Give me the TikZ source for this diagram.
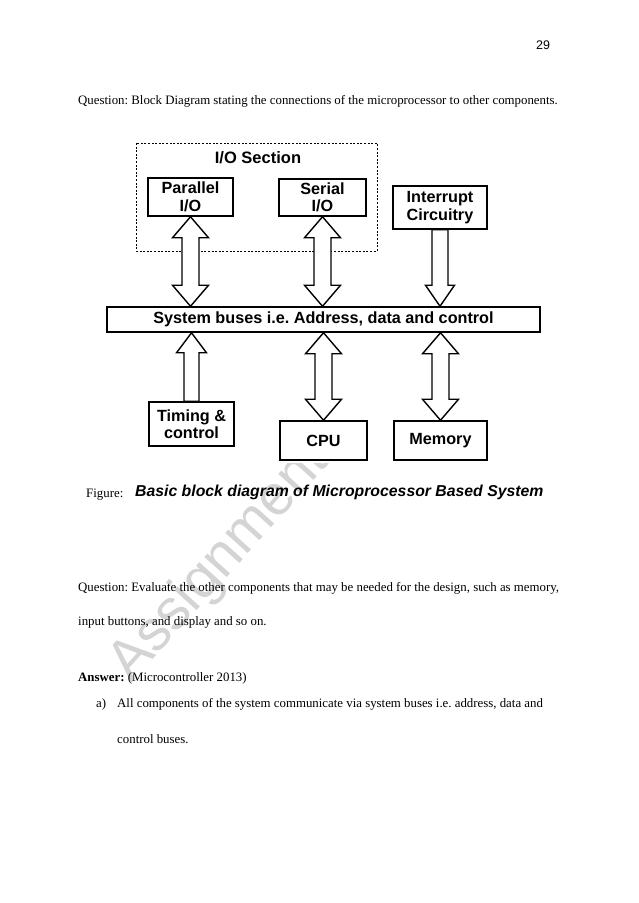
\documentclass[tikz,border=0pt]{standalone}
\usepackage{fontspec}
\setmainfont{Liberation Serif}
\setsansfont{Liberation Sans}
\usetikzlibrary{calc,positioning}
\frenchspacing

% double headed hollow arrow, #1 top point, #2 bottom point
\newcommand{\busdbl}[2]{%
  \draw[busarrow] (#1) -- ($(#1)+(18,21)$) -- ($(#1)+(8.5,21)$) -- ($(#2)+(8.5,-21)$)
    -- ($(#2)+(18,-21)$) -- (#2) -- ($(#2)+(-18,-21)$) -- ($(#2)+(-8.5,-21)$)
    -- ($(#1)+(-8.5,21)$) -- ($(#1)+(-18,21)$) -- cycle;}
% single hollow arrow pointing down to #2
\newcommand{\busdown}[2]{%
  \draw[busarrow] ($(#1)+(-8,0)$) -- ($(#1)+(8,0)$) -- ($(#2)+(8,-21)$) -- ($(#2)+(14.5,-21)$)
    -- (#2) -- ($(#2)+(-14.5,-21)$) -- ($(#2)+(-8,-21)$) -- cycle;}
% single hollow arrow pointing up to #1
\newcommand{\busup}[2]{%
  \draw[busarrow] (#1) -- ($(#1)+(15,20)$) -- ($(#1)+(7.5,20)$) -- ($(#2)+(7.5,0)$)
    -- ($(#2)+(-7.5,0)$) -- ($(#1)+(-7.5,20)$) -- ($(#1)+(-15,20)$) -- cycle;}

\tikzset{
  blockbox/.style={draw, line width=1.5pt, minimum width=86pt, minimum height=38pt,
    align=center, inner sep=1pt, font=\sffamily\bfseries\fontsize{16.2}{17.5}\selectfont},
  busarrow/.style={draw, line width=1.4pt, fill=white, line join=miter},
  bodytext/.style={anchor=base west, inner sep=0pt, font=\fontsize{12.85}{15}\selectfont},
}

\begin{document}
\begin{tikzpicture}[x=1pt,y=-1pt]
  \fill[white] (0,0) rectangle (638,903);
  \useasboundingbox (0,0) rectangle (638,903);

  % watermark, hidden behind the figure
  \begin{scope}
    \clip (0,463) rectangle (638,903);
    \node[anchor=base west, rotate=48, inner sep=0pt, text=black!17,
      font=\sffamily\fontsize{57}{57}\selectfont] (mark) at (131,684) {Assignment};
  \end{scope}

  \node[anchor=center, inner sep=0pt, font=\sffamily\fontsize{12.5}{14}\selectfont] (pageno) at (543,45) {29};
  \node[bodytext] (q1) at (78,104) {Question: Block Diagram stating the connections of the microprocessor to other components.};

  % I/O section
  \draw[line width=0.9pt, dash pattern=on 2pt off 1.6pt] (136,143) rectangle (377,251);
  \node[font=\sffamily\bfseries\fontsize{16.5}{17}\selectfont] (iosec) at (258,158) {I/O Section};
  \node[blockbox, minimum width=85pt] (par) at (190.5,197) {Parallel\\I/O};
  \node[blockbox, minimum width=87pt, minimum height=37pt] (ser) at (322.5,197.5) {Serial\\I/O};
  \node[blockbox, minimum width=94pt, minimum height=43pt] (intr) at (440,207.5) {Interrupt\\Circuitry};

  % system bus
  \node[blockbox, minimum width=433pt, minimum height=25pt] (bus) at (323.5,319.5)
    {System buses i.e. Address, data and control};

  \node[blockbox, minimum width=85pt, minimum height=44pt] (timing) at (191.5,424) {Timing \&\\control};
  \node[blockbox, minimum width=87pt, minimum height=39pt] (cpu) at (323.5,440.5) {CPU};
  \node[blockbox, minimum width=93pt, minimum height=39pt] (mem) at (440.5,440.5) {Memory};

  % connectors
  \coordinate (parB) at (par.south |- bus.north);
  \coordinate (serB) at (ser.south |- bus.north);
  \coordinate (intrB) at (intr.south |- bus.north);
  \coordinate (timingT) at (timing.north |- bus.south);
  \coordinate (cpuT) at (cpu.north |- bus.south);
  \coordinate (memT) at (mem.north |- bus.south);
  \busdbl{par.south}{parB}
  \busdbl{ser.south}{serB}
  \busdown{intr.south}{intrB}
  \busup{timingT}{timing.north}
  \busdbl{cpuT}{cpu.north}
  \busdbl{memT}{mem.north}

  % caption and text
  \node[bodytext] (figlbl) at (86,497) {Figure:};
  \node[anchor=base west, inner sep=0pt, font=\sffamily\bfseries\itshape\fontsize{15.8}{17}\selectfont]
    (caption) at (135,496) {Basic block diagram of Microprocessor Based System};
  \node[bodytext] (q2a) at (78,591) {Question: Evaluate the other components that may be needed for the design, such as memory,};
  \node[bodytext] (q2b) at (78,625) {input buttons, and display and so on.};
  \node[bodytext] (ans) at (78,681) {\textbf{Answer:} (Microcontroller 2013)};
  \node[bodytext] (itema) at (96,707) {a)};
  \node[bodytext] (itemtxt) at (117,707) {All components of the system communicate via system buses i.e. address, data and};
  \node[bodytext] (itemtxt2) at (117,743) {control buses.};
\end{tikzpicture}
\end{document}
